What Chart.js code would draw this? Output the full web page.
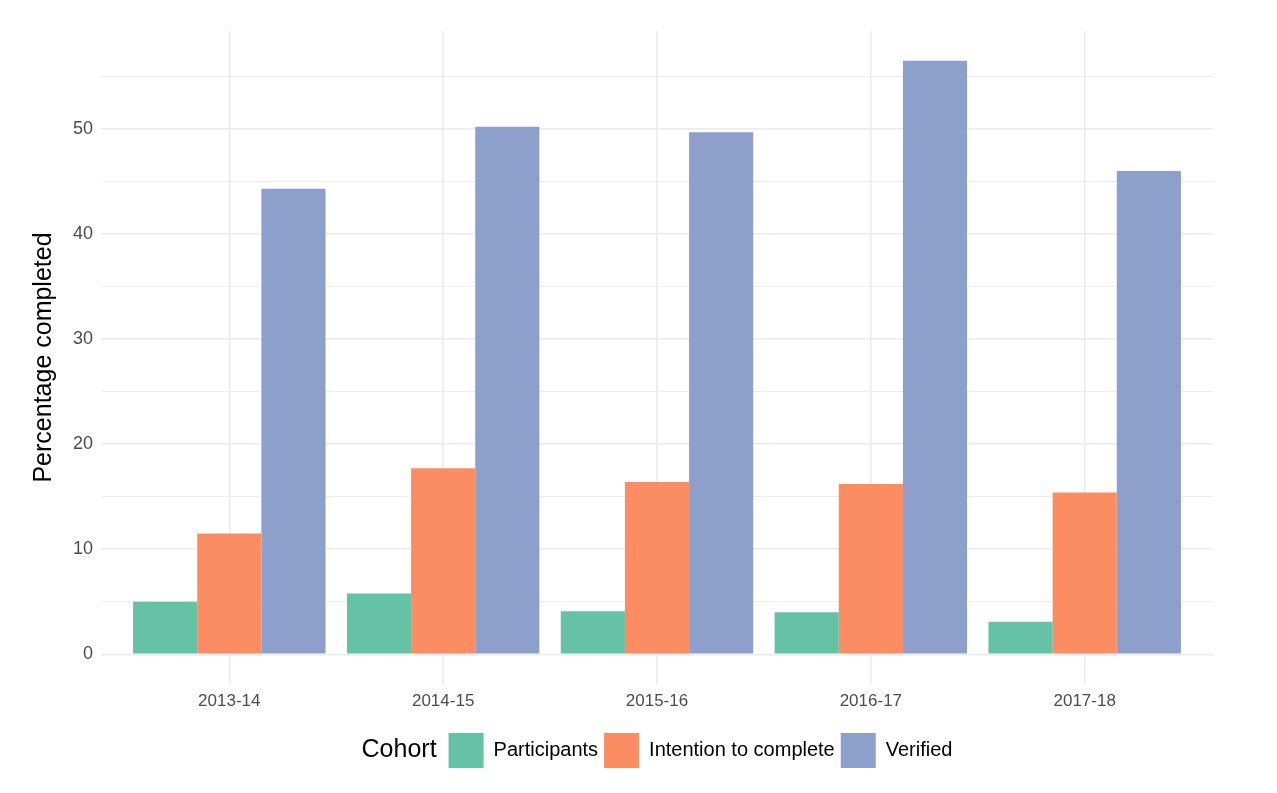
<!DOCTYPE html>
<html>
<head>
<meta charset="utf-8">
<script src="https://cdn.jsdelivr.net/npm/chart.js@4/dist/chart.umd.min.js"></script>
<style>
  html, body { margin: 0; padding: 0; background: #fff; }
  canvas { display: block; }
</style>
</head>
<body>
<canvas id="barChart" width="1277" height="793"></canvas>
<script>
const years = ['2013-14', '2014-15', '2015-16', '2016-17', '2017-18'];
const participants = [5.0, 5.8, 4.1, 4.0, 3.1];
const intention = [11.5, 17.7, 16.4, 16.2, 15.4];
const verified = [44.3, 50.2, 49.7, 56.5, 46.0];
const yTicks = [0, 5, 10, 15, 20, 25, 30, 35, 40, 45, 50, 55];
const legendTitle = 'Cohort';

const FONT = "'Liberation Sans', Arial, Helvetica, sans-serif";

// ggplot style: 5% padding on the value axis, 0.6 category on each side of x
const yMax = Math.max(...participants, ...intention, ...verified);
const yPad = yMax * 0.05;

const toPoints = arr => arr.map((v, i) => ({ x: i, y: v }));

// legend title drawn left of the items, whole group centred on the panel
const TITLE_GAP = 12;
const cohortTitle = {
  id: 'cohortTitle',
  afterUpdate(chart) {
    const legend = chart.legend;
    if (!legend) return;
    const ctx = chart.ctx;
    ctx.save();
    ctx.font = '25px ' + FONT;
    const w = ctx.measureText(legendTitle).width;
    ctx.restore();
    const panelMid = (chart.chartArea.left + chart.chartArea.right) / 2;
    const legendMid = (legend.left + legend.right) / 2;
    const dx = panelMid - legendMid + (w + TITLE_GAP) / 2;
    legend.left += dx;
    legend.right += dx;
    legend.legendHitBoxes.forEach(h => { h.left += dx; });
  },
  afterDraw(chart) {
    const legend = chart.legend;
    if (!legend || !legend.legendHitBoxes.length) return;
    const hb = legend.legendHitBoxes[0];
    const lab = legend.options.labels;
    const ctx = chart.ctx;
    ctx.save();
    ctx.font = '25px ' + FONT;
    ctx.fillStyle = '#000';
    ctx.textAlign = 'right';
    ctx.textBaseline = 'middle';
    ctx.fillText(legendTitle, hb.left - TITLE_GAP, legend.top + lab.padding + lab.boxHeight / 2);
    ctx.restore();
  }
};

const ctx = document.getElementById('barChart');
new Chart(ctx, {
  type: 'bar',
  data: {
    datasets: [
      { label: 'Participants', data: toPoints(participants), backgroundColor: '#66c2a5', borderWidth: 0 },
      { label: 'Intention to complete', data: toPoints(intention), backgroundColor: '#fc8d62', borderWidth: 0 },
      { label: 'Verified', data: toPoints(verified), backgroundColor: '#8da0cb', borderWidth: 0 },
    ],
  },
  options: {
    responsive: false,
    animation: false,
    barPercentage: 1,
    categoryPercentage: 0.9,
    layout: { padding: { top: 31, right: 64, left: 0, bottom: 15 } },
    scales: {
      x: {
        type: 'linear',
        min: -0.6,
        max: years.length - 1 + 0.6,
        offset: false,
        afterBuildTicks: s => { s.ticks = years.map((_, i) => ({ value: i })); },
        afterFit: s => { s.height = 43; },
        grid: { color: '#ebebeb', lineWidth: 1.6, drawTicks: false, offset: false },
        border: { display: false },
        ticks: {
          padding: 7,
          color: '#4d4d4d',
          font: { family: FONT, size: 17 },
          callback: v => years[v],
        },
      },
      y: {
        min: -yPad,
        max: yMax + yPad,
        afterBuildTicks: s => { s.ticks = yTicks.map(v => ({ value: v })); },
        afterFit: s => { s.width = 101; },
        grid: {
          color: '#ebebeb',
          lineWidth: c => (c.tick && c.tick.value % 10 === 0 ? 1.6 : 0.9),
          drawTicks: false,
        },
        border: { display: false },
        ticks: {
          padding: 8,
          color: '#4d4d4d',
          font: { family: FONT, size: 18 },
          callback: v => (v % 10 === 0 ? v : ''),
        },
        title: {
          display: true,
          text: 'Percentage completed',
          color: '#000',
          font: { family: FONT, size: 25 },
          padding: { top: 29, bottom: 0 },
        },
      },
    },
    plugins: {
      tooltip: { enabled: false },
      legend: {
        position: 'bottom',
        labels: {
          boxWidth: 35,
          boxHeight: 35,
          padding: 6,
          color: '#000',
          font: { family: FONT, size: 20 },
        },
      },
    },
  },
  plugins: [cohortTitle],
});
</script>
</body>
</html>
